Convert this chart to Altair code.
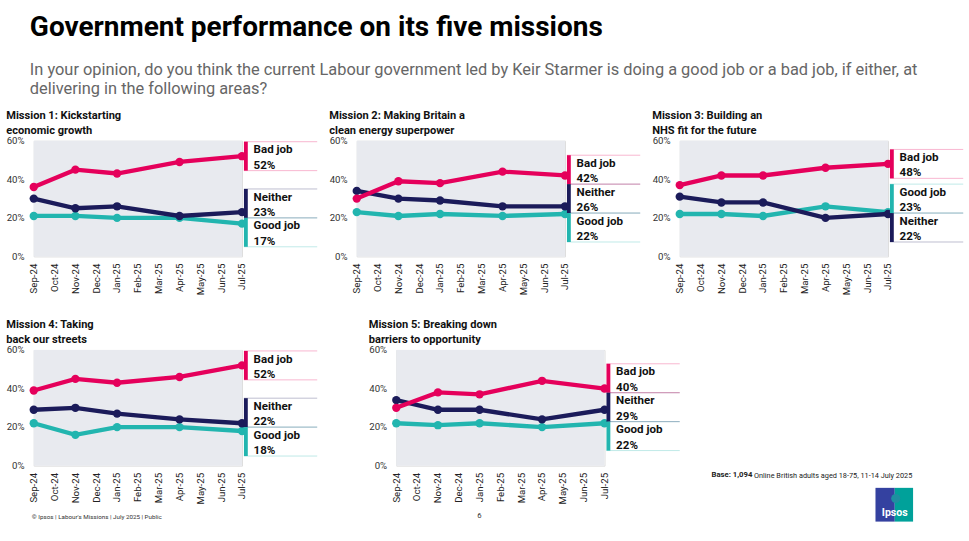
import altair as alt
import pandas as pd

# ---------------- data ----------------
months = ["Sep-24", "Oct-24", "Nov-24", "Dec-24", "Jan-25", "Feb-25",
          "Mar-25", "Apr-25", "May-25", "Jun-25", "Jul-25"]
survey_months = ["Sep-24", "Nov-24", "Jan-25", "Apr-25", "Jul-25"]
series = ["Bad job", "Neither", "Good job"]
colors = ["#E5005B", "#1B1B5A", "#22B5AF"]

mission_titles = [
    ["Mission 1: Kickstarting", "economic growth"],
    ["Mission 2: Making Britain a", "clean energy superpower"],
    ["Mission 3: Building an", "NHS fit for the future"],
    ["Mission 4: Taking", "back our streets"],
    ["Mission 5: Breaking down", "barriers to opportunity"],
]

bad_job = [
    [36, 45, 43, 49, 52],
    [30, 39, 38, 44, 42],
    [37, 42, 42, 46, 48],
    [39, 45, 43, 46, 52],
    [30, 38, 37, 44, 40],
]
neither = [
    [30, 25, 26, 21, 23],
    [34, 30, 29, 26, 26],
    [31, 28, 28, 20, 22],
    [29, 30, 27, 24, 22],
    [34, 29, 29, 24, 29],
]
good_job = [
    [21, 21, 20, 20, 17],
    [23, 21, 22, 21, 22],
    [22, 22, 21, 26, 23],
    [22, 16, 20, 20, 18],
    [22, 21, 22, 20, 22],
]
y_ticks = [0, 20, 40, 60]

title_text = "Government performance on its five missions"
subtitle_text = [
    "In your opinion, do you think the current Labour government led by Keir Starmer is doing a good job or a bad job, if either, at",
    "delivering in the following areas?",
]
footer_text = "\u00a9 Ipsos | Labour's Missions | July 2025 | Public"
page_text = "6"
base_bold = "Base: 1,094"
base_rest = "Online British adults aged 18-75, 11-14 July 2025"

values_by_series = {"Bad job": bad_job, "Neither": neither, "Good job": good_job}
color_of = dict(zip(series, colors))

W, H = 216, 120
BOX = 15      # label box height in % units
RULE = 78     # how far the label box borders reach past the plot
FONT = "Roboto"
BG = "#E8EAEF"


def place_labels(vals, h):
    """Stack end-label boxes around their values, merging overlapping clusters."""
    order = sorted(range(len(vals)), key=lambda i: -vals[i])
    clusters = [[i] for i in order]

    def top_of(c):
        m = sum(vals[i] for i in c) / len(c)
        return m + len(c) * h / 2

    merged = True
    while merged:
        merged = False
        for k in range(len(clusters) - 1):
            a, b = clusters[k], clusters[k + 1]
            if top_of(b) > top_of(a) - len(a) * h:
                clusters[k] = a + b
                del clusters[k + 1]
                merged = True
                break
    tops = {}
    for c in clusters:
        t = top_of(c)
        for j, i in enumerate(c):
            tops[i] = t - j * h
    return tops


one_row = pd.DataFrame({"a": [0]})

yscale = alt.Scale(domain=[0, 60], nice=False)
yaxis = alt.Axis(title=None, values=y_ticks, labelExpr="datum.value + '%'",
                 domain=False, ticks=False, grid=False, labelPadding=10,
                 labelFontSize=10, labelColor="#333", labelFont=FONT)


def make_panel(p, extra_layers=None):
    rows = []
    for s in series:
        for m, v in zip(survey_months, values_by_series[s][p]):
            rows.append(dict(series=s, month=m, value=v, idx=months.index(m)))
    df = pd.DataFrame(rows)

    xenc = alt.X("month:O",
                 scale=alt.Scale(domain=months, type="point", padding=0),
                 axis=alt.Axis(title=None, labelAngle=-90, domain=False, ticks=False,
                               labelPadding=7, labelFontSize=10, labelColor="#222",
                               labelFont=FONT, labelOverlap=False))
    yenc = alt.Y("value:Q", scale=yscale, axis=yaxis)

    layers = [alt.Chart(one_row).mark_rect(color=BG).encode(
        x=alt.value(0), x2=alt.value(W), y=alt.value(0), y2=alt.value(H))]
    for s in ["Good job", "Neither", "Bad job"]:
        base = alt.Chart(df).transform_filter(alt.datum.series == s)
        col = color_of[s]
        layers.append(base.mark_line(color=col, strokeWidth=4.5, strokeCap="round")
                      .encode(x=xenc, y=yenc, order="idx:Q"))
        layers.append(base.mark_circle(color=col, size=75, opacity=1)
                      .encode(x=xenc, y=yenc))

    last = [values_by_series[s][p][-1] for s in series]
    tops = place_labels(last, BOX)
    lab = pd.DataFrame({
        "series": series,
        "top": [tops[i] for i in range(len(series))],
        "bottom": [tops[i] - BOX for i in range(len(series))],
        "label": [f"{s}\n{v}%" for s, v in zip(series, last)],
    })
    cenc = alt.Color("series:N", scale=alt.Scale(domain=series, range=colors), legend=None)
    ytop = alt.Y("top:Q", scale=yscale, axis=yaxis)
    ybot = alt.Y("bottom:Q", scale=yscale, axis=yaxis)
    lc = alt.Chart(lab)
    layers.append(lc.mark_rule(strokeWidth=1, opacity=0.3, clip=False).encode(
        x=alt.value(W + 2), x2=alt.value(W + RULE), y=ytop, color=cenc))
    layers.append(lc.mark_rule(strokeWidth=1, opacity=0.3, clip=False).encode(
        x=alt.value(W + 2), x2=alt.value(W + RULE), y=ybot, color=cenc))
    layers.append(lc.mark_rect(clip=False).encode(
        x=alt.value(W + 2), x2=alt.value(W + 6), y=ytop, y2="bottom:Q", color=cenc))
    layers.append(lc.mark_text(align="left", baseline="top", dy=3, lineBreak="\n",
                               lineHeight=16, fontSize=12, fontWeight="bold",
                               font=FONT, color="#111", clip=False).encode(
        x=alt.value(W + 12), y=ytop, text="label:N"))

    if extra_layers:
        layers.extend(extra_layers)

    return alt.layer(*layers).properties(
        width=W, height=H,
        title=alt.TitleParams(text=mission_titles[p], anchor="start", fontSize=11.5,
                              fontWeight="bold", font=FONT, color="#111",
                              lineHeight=15, offset=0),
    )


def text_layer(txt, x, y, size, weight="normal", color="#333", align="left"):
    return alt.Chart(pd.DataFrame({"t": [txt]})).mark_text(
        align=align, baseline="middle", fontSize=size, fontWeight=weight,
        font=FONT, color=color, clip=False).encode(
        x=alt.value(x), y=alt.value(y), text="t:N")


footer4 = [text_layer(footer_text, -2, 173, 6.5, color="#333")]

footer5 = [
    text_layer(page_text, 84, 172, 8, color="#333"),
    text_layer(base_bold, 327, 130, 8, weight="bold", color="#222"),
    text_layer(base_rest, 371, 131, 7.6, color="#222"),
    alt.Chart(one_row).mark_rect(color="#3441A0", clip=False).encode(
        x=alt.value(497), x2=alt.value(517), y=alt.value(143), y2=alt.value(178)),
    alt.Chart(one_row).mark_rect(color="#00A19A", clip=False).encode(
        x=alt.value(517), x2=alt.value(536), y=alt.value(143), y2=alt.value(178)),
    alt.Chart(one_row).mark_circle(color="#1E8FA0", size=90, opacity=1, clip=False).encode(
        x=alt.value(518), y=alt.value(154)),
    text_layer("Ipsos", 517, 169, 11, weight="bold", color="#ffffff", align="center"),
]

p1 = make_panel(0)
p2 = make_panel(1)
p3 = make_panel(2)
p4 = make_panel(3, footer4)
p5 = make_panel(4, footer5)

row1 = alt.hconcat(p1, p2, p3, spacing=10)
row2 = alt.hconcat(p4, p5, spacing=51)

chart = alt.vconcat(row1, row2, spacing=24).properties(
    title=alt.TitleParams(text=title_text, subtitle=subtitle_text, anchor="start",
                          fontSize=29, fontWeight="bold", font=FONT, color="#000",
                          subtitleFont=FONT, subtitleFontSize=17, subtitleColor="#666",
                          subtitleLineHeight=20, subtitlePadding=22, offset=13, dx=25),
    padding={"left": 5, "top": 4, "right": 5, "bottom": 5},
).configure_view(strokeWidth=0).configure(background="white")

chart.save("out.html", embed_options={"renderer": "svg", "actions": False})
